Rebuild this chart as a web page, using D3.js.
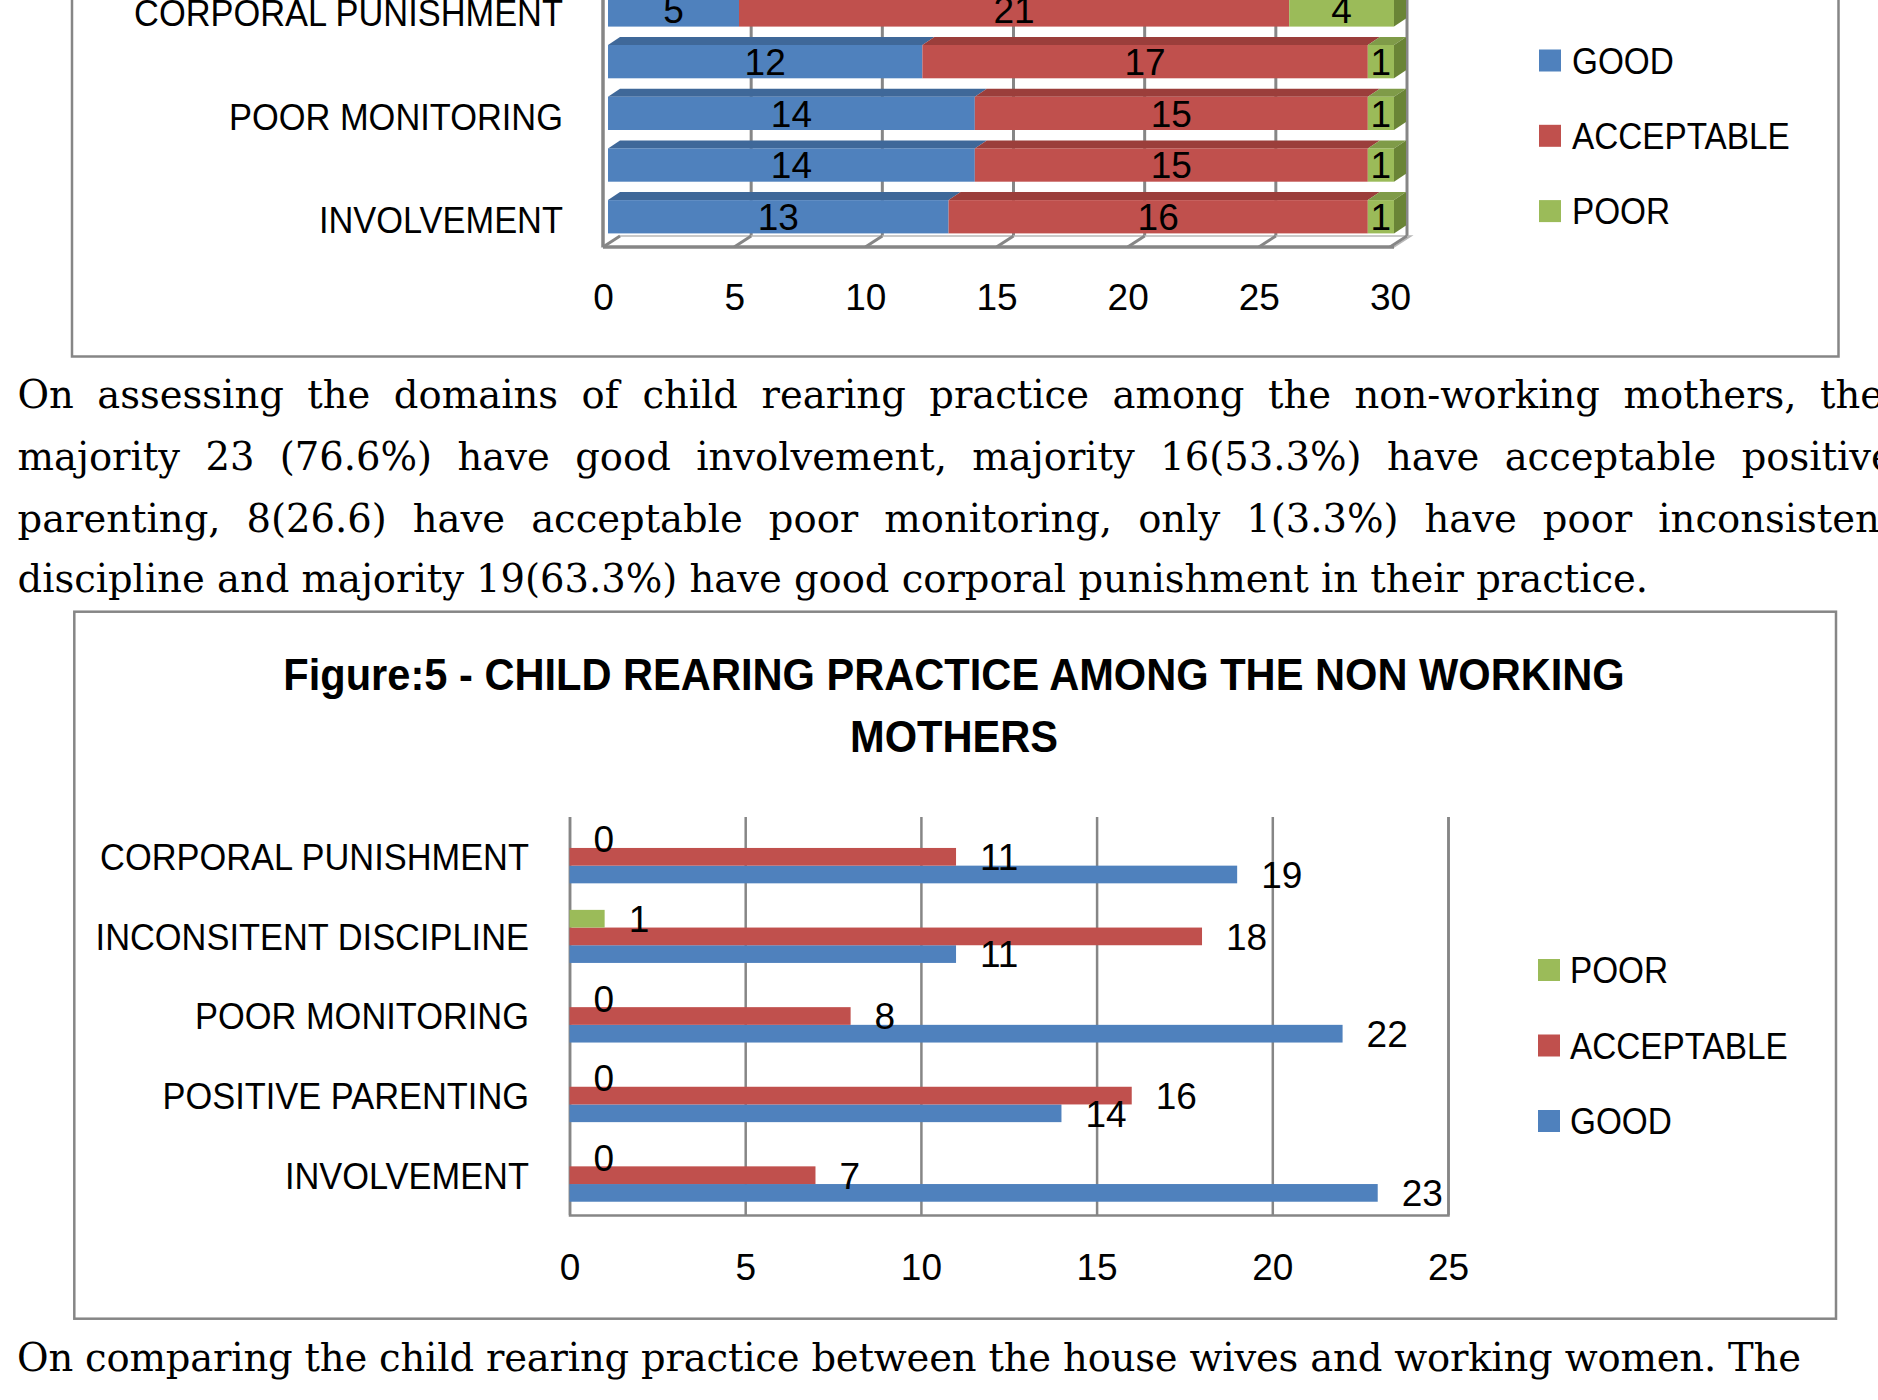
<!DOCTYPE html>
<html>
<head>
<meta charset="utf-8">
<script src="https://cdn.jsdelivr.net/npm/d3@7"></script>
<style>
  body { margin: 0; background: #fff; }
  text { font-family: "Liberation Sans", Arial, sans-serif; fill: #000; }
  .para { font-family: "DejaVu Serif", serif; font-size: 38.5px; }
</style>
</head>
<body>
<div id="page"></div>
<script>
// categories, top to bottom as they appear in both figures
const categories = ["CORPORAL PUNISHMENT", "INCONSITENT DISCIPLINE", "POOR MONITORING", "POSITIVE PARENTING", "INVOLVEMENT"];
const levels = ["GOOD", "ACCEPTABLE", "POOR"];

// previous figure (working mothers) - only its lower part is visible
const workGood = [5, 12, 14, 14, 13];
const workAcceptable = [21, 17, 15, 15, 16];
const workPoor = [4, 1, 1, 1, 1];
const workTicks = [0, 5, 10, 15, 20, 25, 30];

// Figure 5 - non working mothers
const homeGood = [19, 11, 22, 14, 23];
const homeAcceptable = [11, 18, 8, 16, 7];
const homePoor = [0, 1, 0, 0, 0];
const homeTicks = [0, 5, 10, 15, 20, 25];
const homeLegend = ["POOR", "ACCEPTABLE", "GOOD"];

const titleLines = ["Figure:5 - CHILD REARING PRACTICE AMONG THE NON WORKING", "MOTHERS"];

const paraLines = [
  "On assessing the domains of child rearing practice among the non-working mothers, the",
  "majority 23 (76.6%) have good involvement, majority 16(53.3%) have acceptable positive",
  "parenting, 8(26.6) have acceptable poor monitoring, only 1(3.3%) have poor inconsistent",
  "discipline and majority 19(63.3%) have good corporal punishment in their practice."
];
const paraBottom = "On comparing the child rearing practice between the house wives and working women. The";

const colors = { GOOD: "#4F81BD", ACCEPTABLE: "#C0504D", POOR: "#9BBB59" };
const topFace = { GOOD: "#3F6899", ACCEPTABLE: "#9B3E3B", POOR: "#7F9B48" };
const sideFace = { GOOD: "#34557E", ACCEPTABLE: "#7F3230", POOR: "#6A8436" };
const gridColor = "#868686";
const labelSize = 37;

// squeeze text horizontally a little, the original font is narrower than Arial
function condense(sel, f) {
  sel.each(function () {
    const w = this.getComputedTextLength();
    d3.select(this).attr("textLength", w * f).attr("lengthAdjust", "spacingAndGlyphs");
  });
}

const W = 1878, H = 1400;
const svg = d3.select("#page").append("svg")
  .attr("width", W).attr("height", H)
  .attr("viewBox", [0, 0, W, H]);
svg.append("rect").attr("width", W).attr("height", H).attr("fill", "#fff");

// ---------- top (cropped) 3D stacked chart ----------
const upper = svg.append("g");
upper.append("path")
  .attr("d", "M72,-10 V356.5 H1838.5 V-10")
  .attr("fill", "none").attr("stroke", gridColor).attr("stroke-width", 2.5);

const xf = d3.scaleLinear().domain([0, 30]).range([603, 1390]);   // floor front
const xb = d3.scaleLinear().domain([0, 30]).range([608, 1394]);   // bar front faces
const yb = d3.scaleBand().domain(categories).range([-15.9, 242.6])
  .paddingInner(0.356).paddingOuter(0.178);
const depth = [17, -11], barDepth = [12, -8];
const floorFront = 247;

// back wall gridlines
upper.append("g").selectAll("line").data(workTicks.slice(1)).join("line")
  .attr("x1", d => xf(d) + depth[0]).attr("x2", d => xf(d) + depth[0])
  .attr("y1", -10).attr("y2", floorFront + depth[1])
  .attr("stroke", gridColor).attr("stroke-width", 3);

// floor
upper.append("path")
  .attr("d", `M${xf(0)},${floorFront} L${xf(30) + 4},${floorFront} L${xf(30) + 4 + depth[0]},${floorFront + depth[1]} L${xf(0) + depth[0]},${floorFront + depth[1]} Z`)
  .attr("fill", "#fff").attr("stroke", "#b8b8b8").attr("stroke-width", 1.5);
upper.append("g").selectAll("line").data(workTicks).join("line")
  .attr("x1", d => xf(d)).attr("y1", floorFront)
  .attr("x2", d => xf(d) + depth[0]).attr("y2", floorFront + depth[1])
  .attr("stroke", gridColor).attr("stroke-width", 3);
upper.append("line").attr("x1", xf(0)).attr("x2", xf(30) + 4)
  .attr("y1", floorFront).attr("y2", floorFront)
  .attr("stroke", gridColor).attr("stroke-width", 3.5);
upper.append("line").attr("x1", xf(0)).attr("x2", xf(0))
  .attr("y1", -10).attr("y2", floorFront)
  .attr("stroke", gridColor).attr("stroke-width", 3.5);
upper.append("line").attr("x1", xf(30) + depth[0]).attr("x2", xf(30) + depth[0])
  .attr("y1", -10).attr("y2", floorFront + depth[1])
  .attr("stroke", gridColor).attr("stroke-width", 1.5);

const workRows = categories.map((c, i) => ({ cat: c, GOOD: workGood[i], ACCEPTABLE: workAcceptable[i], POOR: workPoor[i] }));
const workStack = d3.stack().keys(levels)(workRows);

const bars = upper.append("g");
workStack.forEach(layer => {
  const key = layer.key;
  const g = bars.append("g");
  layer.forEach(seg => {
    const y0 = yb(seg.data.cat), h = yb.bandwidth();
    const x1 = xb(seg[0]), x2 = xb(seg[1]);
    g.append("path")
      .attr("d", `M${x1},${y0} L${x1 + barDepth[0]},${y0 + barDepth[1]} L${x2 + barDepth[0]},${y0 + barDepth[1]} L${x2},${y0} Z`)
      .attr("fill", topFace[key]);
    g.append("rect").attr("x", x1).attr("y", y0).attr("width", x2 - x1).attr("height", h)
      .attr("fill", colors[key]);
    if (key === "POOR") {
      g.append("path")
        .attr("d", `M${x2},${y0} L${x2 + barDepth[0]},${y0 + barDepth[1]} L${x2 + barDepth[0]},${y0 + h + barDepth[1]} L${x2},${y0 + h} Z`)
        .attr("fill", sideFace[key]);
    }
    g.append("text")
      .attr("x", (x1 + x2) / 2).attr("y", y0 + h / 2).attr("dy", "0.36em")
      .attr("text-anchor", "middle").attr("font-size", labelSize)
      .text(seg.data[key]);
  });
});

// category labels (every other one, as in the original)
upper.append("g").selectAll("text")
  .data(categories.filter((d, i) => i % 2 === 0)).join("text")
  .attr("x", 563).attr("y", d => yb(d) + yb.bandwidth() / 2 + 3).attr("dy", "0.36em")
  .attr("text-anchor", "end").attr("font-size", labelSize).text(d => d)
  .call(condense, 0.93);

const upperAxis = upper.append("g").attr("transform", "translate(0,296.7)")
  .call(d3.axisBottom(xf).tickValues(workTicks).tickSize(0).tickFormat(d3.format("d")));
upperAxis.select(".domain").remove();
upperAxis.selectAll("text").attr("y", 0).attr("dy", "0.36em")
  .attr("font-size", labelSize).attr("font-family", "Liberation Sans, Arial, sans-serif").attr("fill", "#000");

const upperLeg = upper.append("g").selectAll("g").data(levels).join("g")
  .attr("transform", (d, i) => `translate(1539,${60.5 + i * 75.3})`);
upperLeg.append("rect").attr("x", 0).attr("y", -11).attr("width", 22).attr("height", 22)
  .attr("fill", d => colors[d]);
upperLeg.append("text").attr("x", 33).attr("dy", "0.36em").attr("font-size", labelSize).text(d => d)
  .call(condense, 0.9);

// ---------- paragraph text ----------
const para = svg.append("g").attr("class", "para");
function justify(text, x0, xLast, y) {
  const words = text.split(" ");
  const nodes = words.map(w => para.append("text").attr("class", "para").attr("y", y).text(w));
  const widths = nodes.map(n => n.node().getComputedTextLength());
  const gap = (xLast - x0 - d3.sum(widths.slice(0, -1))) / (words.length - 1);
  let x = x0;
  nodes.forEach((n, i) => { n.attr("x", x); x += widths[i] + gap; });
}
function natural(text, x0, x1, y) {
  para.append("text").attr("class", "para").attr("x", x0).attr("y", y)
    .attr("textLength", x1 - x0).attr("lengthAdjust", "spacing").text(text);
}
justify(paraLines[0], 17.5, 1820, 408.3);
justify(paraLines[1], 17.5, 1741.7, 470);
justify(paraLines[2], 17.5, 1658.3, 531.7);
natural(paraLines[3], 17.5, 1648, 591.7);
natural(paraBottom, 17, 1801, 1371);

// ---------- Figure 5 ----------
const fig = svg.append("g");
fig.append("rect").attr("x", 74.3).attr("y", 611.7).attr("width", 1836 - 74.3).attr("height", 1318.7 - 611.7)
  .attr("fill", "none").attr("stroke", gridColor).attr("stroke-width", 2.5);

fig.append("g").selectAll("text").data(titleLines).join("text")
  .attr("x", 954).attr("y", (d, i) => 690 + i * 62)
  .attr("text-anchor", "middle").attr("font-size", 44.5).attr("font-weight", "bold")
  .text(d => d)
  .call(condense, 0.935);

const x = d3.scaleLinear().domain([0, 25]).range([569.5, 1448]);
const y = d3.scaleBand().domain(categories).range([817, 1215]);
const ys = d3.scaleBand().domain(["POOR", "ACCEPTABLE", "GOOD"]).range([0, y.bandwidth()]).paddingOuter(0.75);

const grid = fig.append("g").attr("transform", "translate(0,1215)")
  .call(d3.axisBottom(x).tickValues(homeTicks).tickSize(-(1215 - 817)).tickFormat(""));
grid.select(".domain").attr("stroke", gridColor).attr("stroke-width", 2.5);
grid.selectAll(".tick line").attr("stroke", gridColor).attr("stroke-width", 2.5);

const homeRows = categories.map((c, i) => ({ cat: c, GOOD: homeGood[i], ACCEPTABLE: homeAcceptable[i], POOR: homePoor[i] }));
const flat = homeRows.flatMap(r => levels.map(k => ({ cat: r.cat, key: k, value: r[k] })));

fig.append("g").selectAll("rect").data(flat).join("rect")
  .attr("x", x(0)).attr("y", d => y(d.cat) + ys(d.key))
  .attr("width", d => x(d.value) - x(0)).attr("height", ys.bandwidth())
  .attr("fill", d => colors[d.key]);

fig.append("g").selectAll("text").data(flat).join("text")
  .attr("x", d => x(d.value) + 24).attr("y", d => y(d.cat) + ys(d.key) + ys.bandwidth() / 2)
  .attr("dy", "0.36em").attr("font-size", labelSize).text(d => d.value);

fig.append("g").selectAll("text").data(categories).join("text")
  .attr("x", 529).attr("y", d => y(d) + y.bandwidth() / 2).attr("dy", "0.36em")
  .attr("text-anchor", "end").attr("font-size", labelSize).text(d => d)
  .call(condense, 0.93);

const axisB = fig.append("g").attr("transform", "translate(0,1267)")
  .call(d3.axisBottom(x).tickValues(homeTicks).tickSize(0).tickFormat(d3.format("d")));
axisB.select(".domain").remove();
axisB.selectAll("text").attr("y", 0).attr("dy", "0.36em")
  .attr("font-size", labelSize).attr("font-family", "Liberation Sans, Arial, sans-serif").attr("fill", "#000");

const leg = fig.append("g").selectAll("g").data(homeLegend).join("g")
  .attr("transform", (d, i) => `translate(1538,${970 + i * 75.5})`);
leg.append("rect").attr("x", 0).attr("y", -11).attr("width", 22).attr("height", 22)
  .attr("fill", d => colors[d]);
leg.append("text").attr("x", 32).attr("dy", "0.36em").attr("font-size", labelSize).text(d => d)
  .call(condense, 0.9);
</script>
</body>
</html>
